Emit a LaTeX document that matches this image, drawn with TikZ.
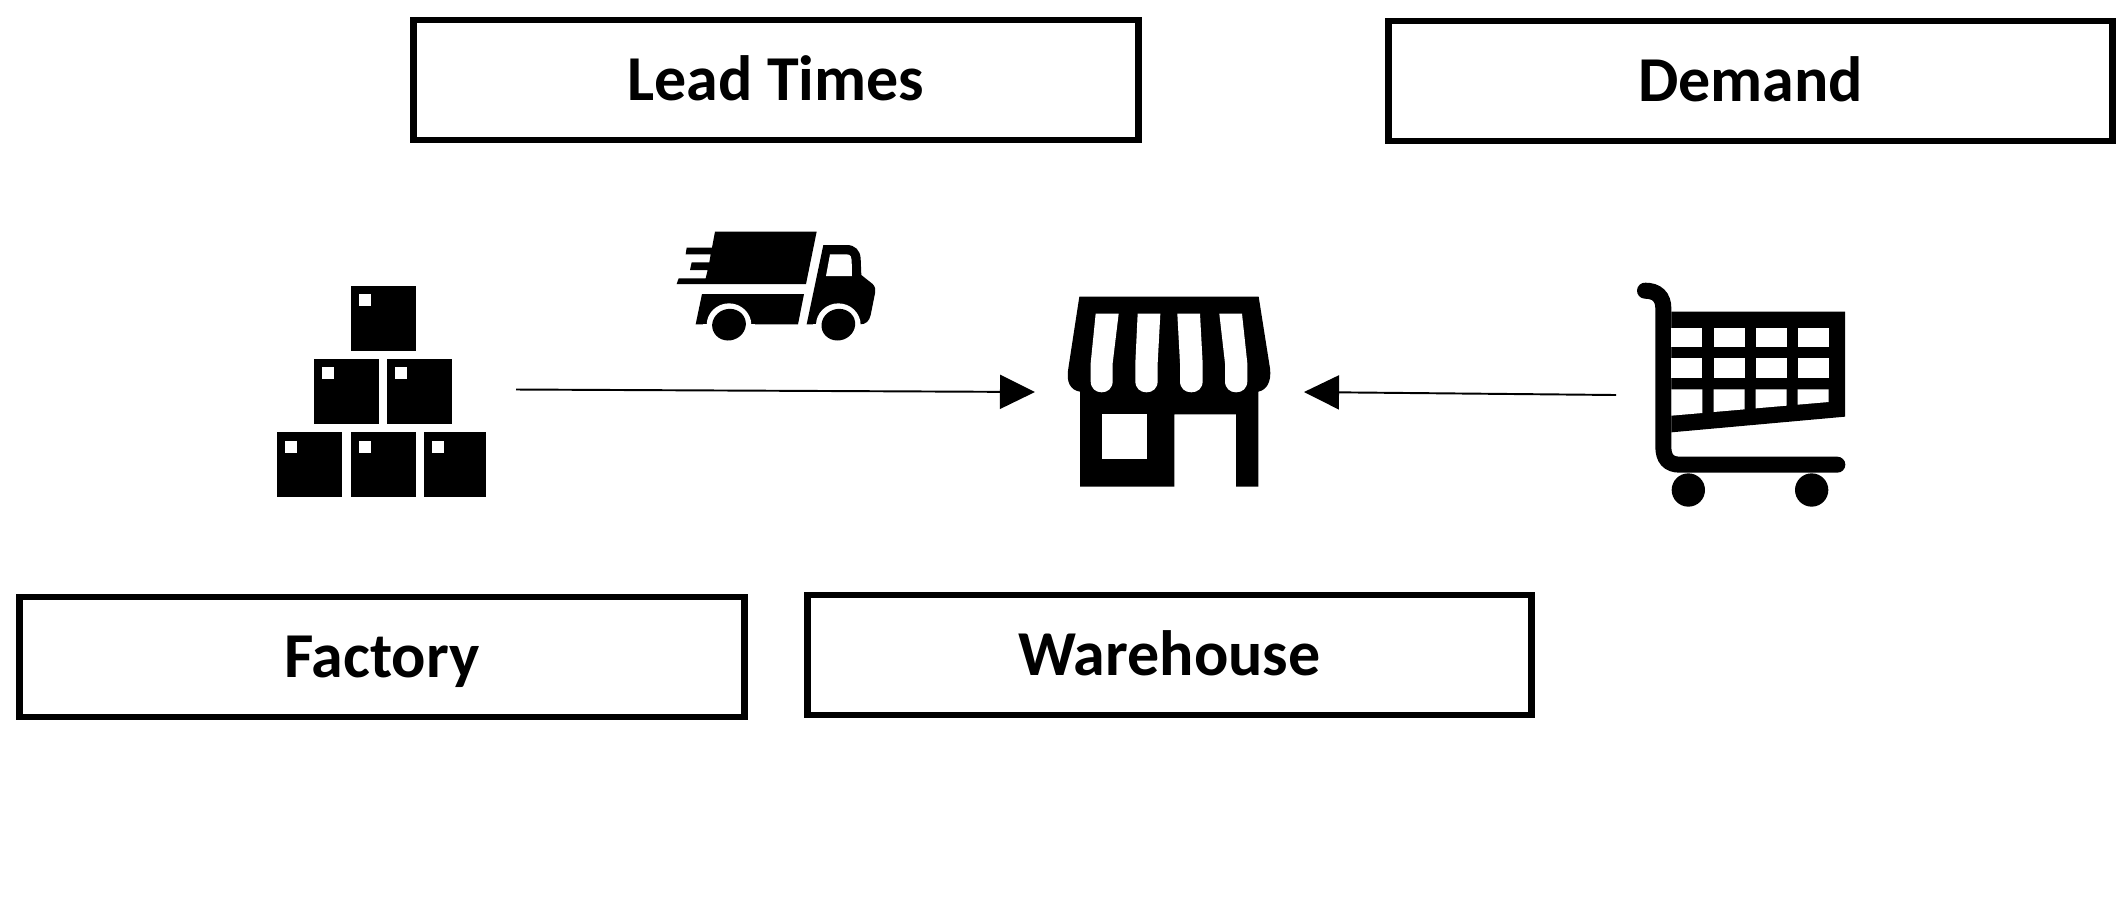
\documentclass[tikz,border=0pt]{standalone}
\usepackage{fontspec}
\setmainfont{Carlito}
\usetikzlibrary{arrows.meta}

\tikzset{
	labelbox/.style={draw=black,line width=1.9pt,minimum width=7.24cm,minimum height=1.2cm,inner sep=0pt,text height=0.5cm,text depth=0.1cm,font=\fontsize{18.2}{22}\selectfont\bfseries},
	flow/.style={draw=black,line width=0.55pt,-{Triangle[length=0.35cm,width=0.34cm]}},
	icon/.style={shift={#1},scale=1/3}
}

\begin{document}
\begin{tikzpicture}[x=0.01cm,y=-0.01cm]
	\useasboundingbox (0,0) rectangle (2120,914);
	% labels
	\node[labelbox] (leadtimes) at (776,80) {Lead Times};
	\node[labelbox] (demand) at (1750.5,81) {Demand};
	\node[labelbox] (factory) at (382,657) {Factory};
	\node[labelbox] (warehouse) at (1169.5,655) {Warehouse};
	% pile of boxes at the factory
	\foreach \bx/\by/\bw in {351/286/65,314/359/65,387.3/359/65,277/432.3/65,350.7/432.3/65,424/432.3/62}{
		\fill[black] (\bx,\by) rectangle +(\bw,65);
		\fill[white] (\bx+8,\by+8.3) rectangle +(12,12);
	}
	% truck
	\begin{scope}[icon={(640,210)}]
		\fill[black] (225,65)--(530,65)--(498,222)--(110,222)--(116,205)--(197,205)--(203,180)--(150,180)--(155,157)--(208,157)--(212,133)--(137,133)--(140,113)--(216,113)--cycle;
		\fill[black] (186,252)--(492,252)--(474,343)--(167,343)--cycle;
		\fill[black] (550,105)--(620,105) .. controls (645,105) and (660,120) .. (662,145) -- (664,195)--(698,222) .. controls (706,230) and (707,240) .. (705,250) -- (692,315) .. controls (688,333) and (678,343) .. (660,343) -- (500,343)--cycle;
		\fill[white] (570,133)--(620,133) .. controls (632,133) and (635,142) .. (635,150) -- (636,198)--(558,198)--cycle;
		\foreach \wx in {267,595}{
			\fill[white] (\wx,345) ellipse [x radius=67,y radius=65];
		}
		\fill[white] (190,343) rectangle (345,400);
		\fill[white] (520,343) rectangle (660,400);
		\foreach \wx in {267,595}{
			\fill[black,rotate around={20:(\wx,344)}] (\wx,344) ellipse [x radius=51,y radius=47];
		}
	\end{scope}
	% store
	\begin{scope}[icon={(1050,280)}]
		\fill[black] (88,50)--(626,50)--(660,265) .. controls (665,305) and (650,330) .. (625,335) -- (625,620)--(558,620)--(558,403)--(373,403)--(373,620)--(90,620)--(90,335) .. controls (60,330) and (48,305) .. (55,265) -- cycle;
		\fill[white] (155,403) rectangle (290,538);
		\foreach \sa/\sb/\sc/\sd in {137/206/122/188,263/331/256/323,382/450/390/458,508/576/525/592}{
			\fill[white] (\sa,101)--(\sb,101)--(\sd,250)--(\sd,303) .. controls (\sd,325) and (\sd-15,337) .. ({(\sc+\sd)/2},337) .. controls (\sc+15,337) and (\sc,325) .. (\sc,303) -- (\sc,250)--cycle;
		}
	\end{scope}
	% cart
	\begin{scope}[icon={(1620,270)}]
		\fill[black] (154,125)--(675,125)--(675,440)--(154,487)--cycle;
		\draw[black,line width=0.16cm,line cap=round] (75,62) .. controls (110,62) and (130,80) .. (130,115) -- (130,530) .. controls (130,565) and (145,584) .. (180,584) -- (652,584);
		\foreach \ca/\cb/\cl/\cr in {154/247/437/429,281/374/426/418,407/500/415/407,533/626/404/396}{
			\fill[white] (\ca,173) rectangle (\cb,232);
			\fill[white] (\ca,265) rectangle (\cb,324);
			\fill[white] (\ca,358)--(\cb,358)--(\cb,\cr)--(\ca,\cl)--cycle;
		}
		\fill[black] (205,660) circle (50);
		\fill[black] (575,660) circle (50);
	\end{scope}
	% connectors
	\coordinate (factoryout) at (516,389.5);
	\coordinate (storeleft) at (1035,392);
	\coordinate (cartin) at (1616,395);
	\coordinate (storeright) at (1304,392);
	\draw[flow] (factoryout) -- (storeleft);
	\draw[flow] (cartin) -- (storeright);
\end{tikzpicture}
\end{document}
